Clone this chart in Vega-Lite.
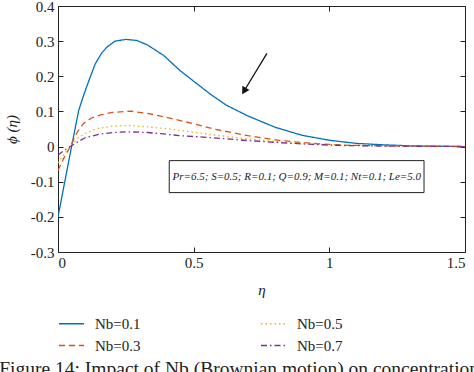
{
  "$schema": "https://vega.github.io/schema/vega-lite/v6.json",
  "width": 407,
  "height": 246,
  "autosize": "none",
  "padding": {"left": 58, "top": 6, "right": 9, "bottom": 120},
  "config": {
    "view": {"stroke": "#222", "strokeWidth": 1},
    "font": "Liberation Serif",
    "axis": {
      "grid": false, "domain": false, "tickSize": -5, "tickColor": "#222", "tickWidth": 1,
      "labelFont": "Liberation Serif", "labelFontSize": 15, "labelColor": "#222",
      "titleFont": "Liberation Serif", "titleFontSize": 15, "titleFontWeight": "normal",
      "titleFontStyle": "italic", "titleColor": "#222"
    }
  },
  "title": {
    "text": "Figure 14: Impact of Nb (Brownian motion) on concentration",
    "orient": "bottom", "anchor": "start", "font": "Liberation Serif", "fontSize": 19.5,
    "fontWeight": "normal", "color": "#222", "offset": 6, "dx": -5
  },
  "datasets": {
    "curves": [
      {"eta": 0, "phi": -0.2, "Nb": "Nb=0.1"},
      {"eta": 0.02, "phi": -0.12, "Nb": "Nb=0.1"},
      {"eta": 0.033, "phi": -0.068, "Nb": "Nb=0.1"},
      {"eta": 0.05, "phi": 0.0, "Nb": "Nb=0.1"},
      {"eta": 0.076, "phi": 0.102, "Nb": "Nb=0.1"},
      {"eta": 0.094, "phi": 0.145, "Nb": "Nb=0.1"},
      {"eta": 0.115, "phi": 0.19, "Nb": "Nb=0.1"},
      {"eta": 0.137, "phi": 0.235, "Nb": "Nb=0.1"},
      {"eta": 0.16, "phi": 0.265, "Nb": "Nb=0.1"},
      {"eta": 0.18, "phi": 0.283, "Nb": "Nb=0.1"},
      {"eta": 0.21, "phi": 0.3, "Nb": "Nb=0.1"},
      {"eta": 0.25, "phi": 0.305, "Nb": "Nb=0.1"},
      {"eta": 0.29, "phi": 0.302, "Nb": "Nb=0.1"},
      {"eta": 0.33, "phi": 0.289, "Nb": "Nb=0.1"},
      {"eta": 0.39, "phi": 0.259, "Nb": "Nb=0.1"},
      {"eta": 0.45, "phi": 0.216, "Nb": "Nb=0.1"},
      {"eta": 0.5, "phi": 0.186, "Nb": "Nb=0.1"},
      {"eta": 0.56, "phi": 0.15, "Nb": "Nb=0.1"},
      {"eta": 0.62, "phi": 0.118, "Nb": "Nb=0.1"},
      {"eta": 0.7, "phi": 0.087, "Nb": "Nb=0.1"},
      {"eta": 0.8, "phi": 0.055, "Nb": "Nb=0.1"},
      {"eta": 0.9, "phi": 0.032, "Nb": "Nb=0.1"},
      {"eta": 1.0, "phi": 0.018, "Nb": "Nb=0.1"},
      {"eta": 1.1, "phi": 0.009, "Nb": "Nb=0.1"},
      {"eta": 1.2, "phi": 0.005, "Nb": "Nb=0.1"},
      {"eta": 1.3, "phi": 0.002, "Nb": "Nb=0.1"},
      {"eta": 1.4, "phi": 0.001, "Nb": "Nb=0.1"},
      {"eta": 1.5, "phi": 0.0, "Nb": "Nb=0.1"},

      {"eta": 0, "phi": -0.068, "Nb": "Nb=0.3"},
      {"eta": 0.02, "phi": -0.035, "Nb": "Nb=0.3"},
      {"eta": 0.045, "phi": 0.0, "Nb": "Nb=0.3"},
      {"eta": 0.07, "phi": 0.04, "Nb": "Nb=0.3"},
      {"eta": 0.094, "phi": 0.066, "Nb": "Nb=0.3"},
      {"eta": 0.125, "phi": 0.082, "Nb": "Nb=0.3"},
      {"eta": 0.156, "phi": 0.09, "Nb": "Nb=0.3"},
      {"eta": 0.2, "phi": 0.097, "Nb": "Nb=0.3"},
      {"eta": 0.266, "phi": 0.101, "Nb": "Nb=0.3"},
      {"eta": 0.334, "phi": 0.094, "Nb": "Nb=0.3"},
      {"eta": 0.4, "phi": 0.083, "Nb": "Nb=0.3"},
      {"eta": 0.45, "phi": 0.074, "Nb": "Nb=0.3"},
      {"eta": 0.5, "phi": 0.065, "Nb": "Nb=0.3"},
      {"eta": 0.573, "phi": 0.05, "Nb": "Nb=0.3"},
      {"eta": 0.7, "phi": 0.031, "Nb": "Nb=0.3"},
      {"eta": 0.82, "phi": 0.017, "Nb": "Nb=0.3"},
      {"eta": 0.94, "phi": 0.009, "Nb": "Nb=0.3"},
      {"eta": 1.05, "phi": 0.004, "Nb": "Nb=0.3"},
      {"eta": 1.2, "phi": 0.002, "Nb": "Nb=0.3"},
      {"eta": 1.35, "phi": 0.001, "Nb": "Nb=0.3"},
      {"eta": 1.5, "phi": 0.0, "Nb": "Nb=0.3"},

      {"eta": 0, "phi": -0.047, "Nb": "Nb=0.5"},
      {"eta": 0.02, "phi": -0.024, "Nb": "Nb=0.5"},
      {"eta": 0.045, "phi": 0.0, "Nb": "Nb=0.5"},
      {"eta": 0.07, "phi": 0.022, "Nb": "Nb=0.5"},
      {"eta": 0.1, "phi": 0.038, "Nb": "Nb=0.5"},
      {"eta": 0.15, "phi": 0.052, "Nb": "Nb=0.5"},
      {"eta": 0.2, "phi": 0.058, "Nb": "Nb=0.5"},
      {"eta": 0.26, "phi": 0.06, "Nb": "Nb=0.5"},
      {"eta": 0.33, "phi": 0.056, "Nb": "Nb=0.5"},
      {"eta": 0.4, "phi": 0.051, "Nb": "Nb=0.5"},
      {"eta": 0.45, "phi": 0.046, "Nb": "Nb=0.5"},
      {"eta": 0.573, "phi": 0.033, "Nb": "Nb=0.5"},
      {"eta": 0.7, "phi": 0.022, "Nb": "Nb=0.5"},
      {"eta": 0.82, "phi": 0.013, "Nb": "Nb=0.5"},
      {"eta": 0.94, "phi": 0.007, "Nb": "Nb=0.5"},
      {"eta": 1.05, "phi": 0.004, "Nb": "Nb=0.5"},
      {"eta": 1.2, "phi": 0.002, "Nb": "Nb=0.5"},
      {"eta": 1.5, "phi": 0.0, "Nb": "Nb=0.5"},

      {"eta": 0, "phi": -0.025, "Nb": "Nb=0.7"},
      {"eta": 0.02, "phi": -0.012, "Nb": "Nb=0.7"},
      {"eta": 0.045, "phi": 0.0, "Nb": "Nb=0.7"},
      {"eta": 0.07, "phi": 0.012, "Nb": "Nb=0.7"},
      {"eta": 0.1, "phi": 0.025, "Nb": "Nb=0.7"},
      {"eta": 0.15, "phi": 0.035, "Nb": "Nb=0.7"},
      {"eta": 0.2, "phi": 0.04, "Nb": "Nb=0.7"},
      {"eta": 0.26, "phi": 0.042, "Nb": "Nb=0.7"},
      {"eta": 0.33, "phi": 0.04, "Nb": "Nb=0.7"},
      {"eta": 0.4, "phi": 0.035, "Nb": "Nb=0.7"},
      {"eta": 0.45, "phi": 0.031, "Nb": "Nb=0.7"},
      {"eta": 0.573, "phi": 0.025, "Nb": "Nb=0.7"},
      {"eta": 0.7, "phi": 0.017, "Nb": "Nb=0.7"},
      {"eta": 0.82, "phi": 0.011, "Nb": "Nb=0.7"},
      {"eta": 0.94, "phi": 0.006, "Nb": "Nb=0.7"},
      {"eta": 1.05, "phi": 0.003, "Nb": "Nb=0.7"},
      {"eta": 1.2, "phi": 0.0015, "Nb": "Nb=0.7"},
      {"eta": 1.5, "phi": 0.0, "Nb": "Nb=0.7"}
    ],
    "box": [
      {"x1": 0.41, "x2": 1.349, "y1": -0.04, "y2": -0.131, "xm": 0.88, "ym": -0.086,
       "label": "Pr=6.5; S=0.5; R=0.1; Q=0.9; M=0.1; Nt=0.1; Le=5.0"}
    ],
    "arrow": [
      {"ex": 0.77, "ey": 0.265, "sx": 0.688, "sy": 0.161, "angle": 211}
    ]
  },
  "layer": [
    {
      "data": {"name": "curves"},
      "mark": {"type": "line", "strokeWidth": 1.3, "clip": true},
      "encoding": {
        "x": {
          "field": "eta", "type": "quantitative",
          "scale": {"domain": [0, 1.5], "nice": false, "zero": false},
          "axis": {"values": [0, 0.5, 1, 1.5], "title": "η", "labelExpr": "format(datum.value, '~g')",
                   "labelPadding": 8, "titlePadding": 12}
        },
        "y": {
          "field": "phi", "type": "quantitative",
          "scale": {"domain": [-0.3, 0.4], "nice": false, "zero": false},
          "axis": {"values": [-0.3, -0.2, -0.1, 0, 0.1, 0.2, 0.3, 0.4], "title": "ϕ (η)",
                   "labelExpr": "datum.value == 0 ? '0' : (datum.value < 0 ? '-' + format(-datum.value, '.1f') : format(datum.value, '.1f'))",
                   "labelPadding": 9, "titlePadding": 11}
        },
        "color": {
          "field": "Nb", "type": "nominal",
          "scale": {"domain": ["Nb=0.1", "Nb=0.3", "Nb=0.5", "Nb=0.7"],
                    "range": ["#0072BD", "#D95319", "#EDB120", "#7E2F8E"]},
          "legend": {
            "orient": "none", "legendX": 0, "legendY": 304, "columns": 2, "columnPadding": 117,
            "symbolType": "stroke", "symbolSize": 625, "symbolStrokeWidth": 1.3, "title": null,
            "labelFont": "Liberation Serif", "labelFontSize": 15, "labelColor": "#222",
            "labelOffset": 10, "rowPadding": -9
          }
        },
        "strokeDash": {
          "field": "Nb", "type": "nominal",
          "scale": {"domain": ["Nb=0.1", "Nb=0.3", "Nb=0.5", "Nb=0.7"],
                    "range": [[1, 0], [6, 4], [1.5, 3], [6, 3, 1.5, 3]]},
          "legend": null
        }
      }
    },
    {
      "data": {"name": "box"},
      "mark": {"type": "rect", "fill": "white", "stroke": "#222", "strokeWidth": 1},
      "encoding": {
        "x": {"field": "x1", "type": "quantitative", "axis": null},
        "x2": {"field": "x2"},
        "y": {"field": "y1", "type": "quantitative", "axis": null},
        "y2": {"field": "y2"}
      }
    },
    {
      "data": {"name": "box"},
      "mark": {"type": "text", "font": "Liberation Serif", "fontStyle": "italic", "fontSize": 11, "color": "#222"},
      "encoding": {
        "x": {"field": "xm", "type": "quantitative", "axis": null},
        "y": {"field": "ym", "type": "quantitative", "axis": null},
        "text": {"field": "label"}
      }
    },
    {
      "data": {"name": "arrow"},
      "mark": {"type": "rule", "color": "#111", "strokeWidth": 1.3},
      "encoding": {
        "x": {"field": "ex", "type": "quantitative",
              "axis": {"orient": "top", "values": [0, 0.5, 1, 1.5], "labels": false, "title": null}},
        "y": {"field": "ey", "type": "quantitative",
              "axis": {"orient": "right", "values": [-0.3, -0.2, -0.1, 0, 0.1, 0.2, 0.3, 0.4], "labels": false, "title": null}},
        "x2": {"field": "sx"},
        "y2": {"field": "sy"}
      }
    },
    {
      "data": {"name": "arrow"},
      "mark": {"type": "point", "shape": "triangle", "filled": true, "color": "#111", "size": 70, "opacity": 1},
      "encoding": {
        "x": {"field": "sx", "type": "quantitative", "axis": null},
        "y": {"field": "sy", "type": "quantitative", "axis": null},
        "angle": {"field": "angle", "type": "quantitative", "scale": null}
      }
    }
  ],
  "resolve": {"axis": {"x": "independent", "y": "independent"}}
}
